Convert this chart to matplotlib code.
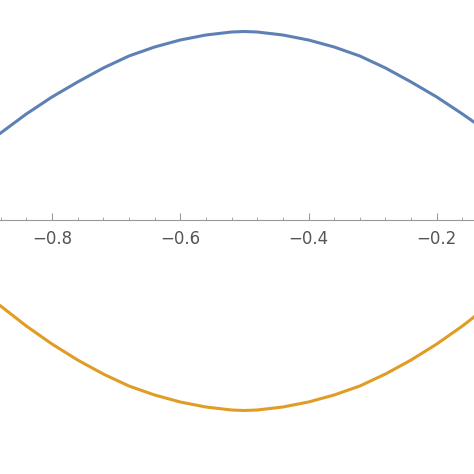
import matplotlib
matplotlib.use("Agg")
import matplotlib.pyplot as plt
from matplotlib.ticker import MultipleLocator

x = [-0.88,-0.84,-0.80,-0.76,-0.72,-0.68,-0.64,-0.60,-0.56,-0.52,-0.50,-0.48,-0.44,-0.40,-0.36,-0.32,-0.28,-0.24,-0.20,-0.16,-0.14]
blue = [0.87,1.06,1.23,1.38,1.52,1.64,1.73,1.80,1.85,1.88,1.885,1.88,1.85,1.80,1.73,1.64,1.52,1.38,1.23,1.06,0.97]
orange = [-0.86,-1.06,-1.24,-1.40,-1.54,-1.66,-1.75,-1.82,-1.87,-1.90,-1.905,-1.90,-1.87,-1.82,-1.75,-1.66,-1.54,-1.40,-1.24,-1.06,-0.96]
ticks = [-0.8, -0.6, -0.4, -0.2]
tick_labels = ["\u22120.8", "\u22120.6", "\u22120.4", "\u22120.2"]

fig = plt.figure(figsize=(4.74, 4.74), dpi=100)
ax = fig.add_axes([0, 0, 1, 1])
ax.plot(x, blue, color="#5E81B5", lw=2.2, solid_joinstyle="round")
ax.plot(x, orange, color="#E19C24", lw=2.2, solid_joinstyle="round")
ax.set_xlim(-0.881, -0.142)
ax.set_ylim(-2.54, 2.20)
for s in ["top", "right", "left"]:
    ax.spines[s].set_visible(False)
ax.spines["bottom"].set_position(("data", 0))
ax.spines["bottom"].set_color("#999999")
ax.set_yticks([])
ax.set_xticks(ticks)
ax.set_xticklabels(tick_labels)
ax.xaxis.set_minor_locator(MultipleLocator(0.04))
ax.tick_params(axis="x", which="major", direction="in", length=5, color="#999999",
               labelsize=12, labelcolor="#555555", pad=7)
ax.tick_params(axis="x", which="minor", direction="in", length=2.5, color="#999999")
fig.savefig("out.png", dpi=100)
